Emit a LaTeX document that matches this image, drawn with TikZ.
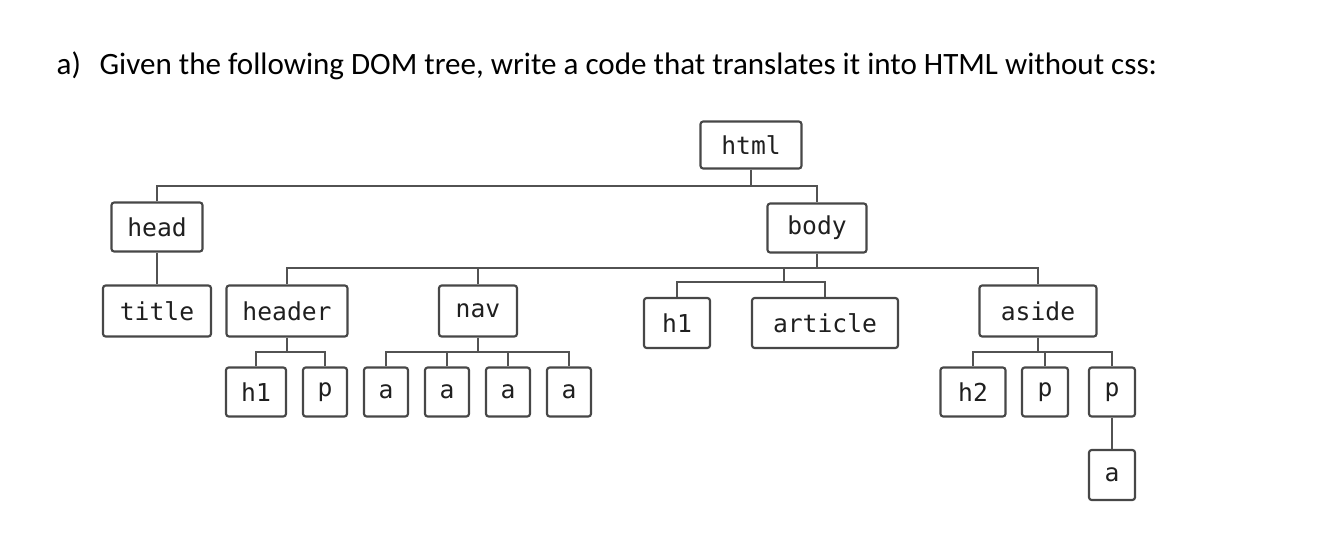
\documentclass[tikz,border=0pt]{standalone}
\usepackage{fontspec}
\setmainfont{Carlito}
\newfontfamily\monofnt{DejaVu Sans Mono}
\begin{document}
\begin{tikzpicture}[x=0.75pt,y=-0.75pt,
  bx/.style={draw=black!72,line width=1.6pt,rounded corners=2pt,inner sep=0pt,
    font=\monofnt\fontsize{18.5}{21}\selectfont,text=black!88},
  ln/.style={draw=black!68,line width=2.1pt}]
\useasboundingbox (0,0) rectangle (1330,532);
\node[anchor=west,font=\fontsize{23.3}{27}\selectfont] (cap) at (52,66) {a)\hspace{14pt}Given the following DOM tree, write a code that translates it into HTML without css:};
\newcommand\bxn[6]{\node[bx,minimum width=#4*0.75pt,minimum height=#5*0.75pt] (#1) at (#2,#3) {#6};}
\bxn{html}{751}{145}{101}{47}{html}
\bxn{head}{157}{227}{91}{49}{head}
\bxn{body}{817}{228}{99}{49}{body}
\bxn{title}{157}{311}{108}{51}{title}
\bxn{header}{287}{311}{121}{51}{header}
\bxn{nav}{478}{311}{78}{51}{nav}
\bxn{hA}{677}{323}{66}{50}{h1}
\bxn{article}{825}{323}{146}{50}{article}
\bxn{aside}{1038}{311}{117}{51}{aside}
\bxn{hB}{256}{392}{60}{49}{h1}
\bxn{pA}{325}{392}{44}{49}{p}
\bxn{aA}{386}{392}{44}{49}{a}
\bxn{aB}{447}{392}{44}{49}{a}
\bxn{aC}{508}{392}{44}{49}{a}
\bxn{aD}{569}{392}{44}{49}{a}
\bxn{hC}{973}{392}{65}{49}{h2}
\bxn{pB}{1045}{392}{46}{49}{p}
\bxn{pC}{1112}{392}{46}{49}{p}
\bxn{aE}{1112}{475}{46}{50}{a}
% html children
\draw[ln] (html.south) -- (751,186) (head.north) |- (751,186) -| (body.north);
% head
\draw[ln] (head.south) -- (title.north);
% body children
\draw[ln] (body.south) -- (817,268) (header.north) |- (817,268) -| (aside.north);
\draw[ln] (nav.north) -- (478,268);
\draw[ln] (784,268) -- (784,282) (hA.north) |- (784,282) -| (article.north);
% header children
\draw[ln] (header.south) -- (287,352) (hB.north) |- (287,352) -| (pA.north);
% nav children
\draw[ln] (nav.south) -- (478,352) (aA.north) |- (478,352) -| (aD.north);
\draw[ln] (aB.north) -- (447,352) (aC.north) -- (508,352);
% aside children
\draw[ln] (aside.south) -- (1038,352) (hC.north) |- (1038,352) -| (pC.north);
\draw[ln] (pB.north) -- (1045,352);
\draw[ln] (pC.south) -- (aE.north);
\end{tikzpicture}
\end{document}
